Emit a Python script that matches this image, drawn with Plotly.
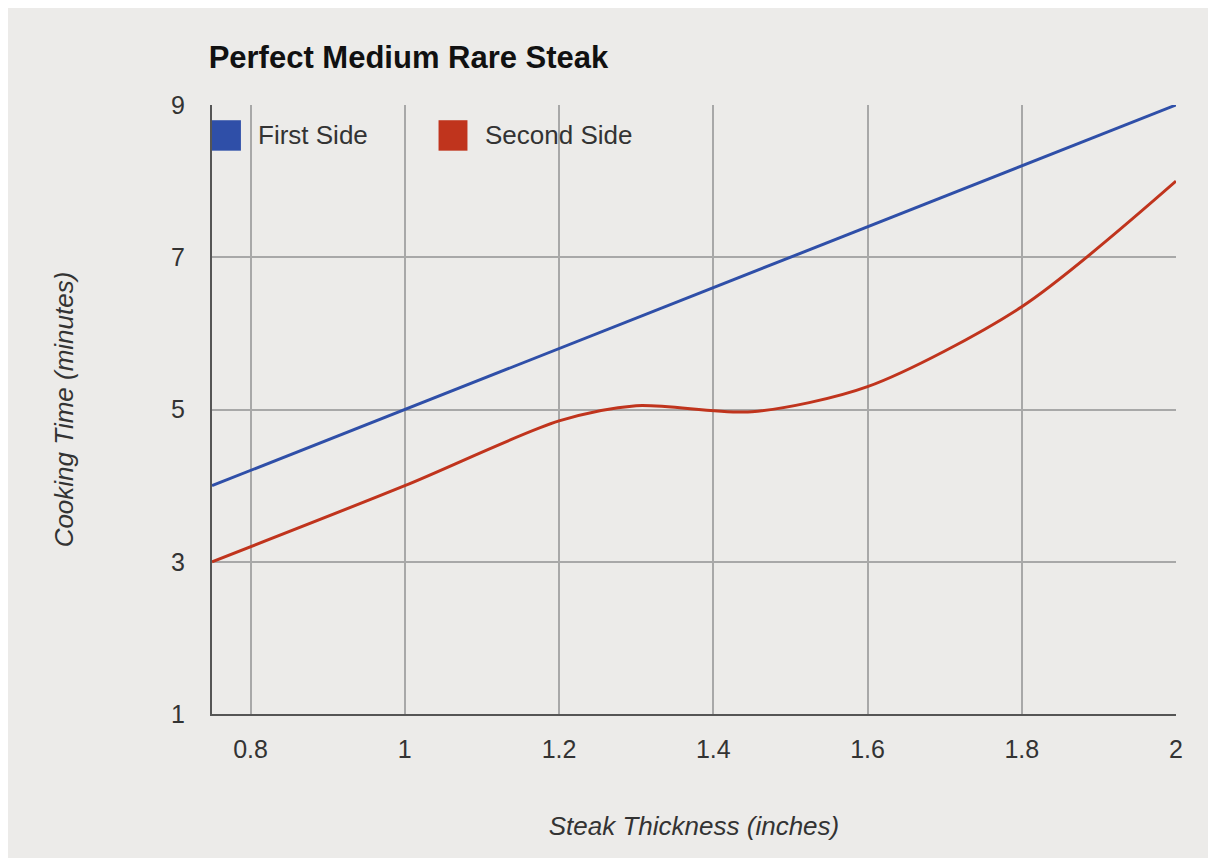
import plotly.graph_objects as go

thickness_first = [0.75, 1.0, 1.25, 1.5, 1.75, 2.0]
time_first = [4, 5, 6, 7, 8, 9]

thickness_second = [0.75, 1.0, 1.2, 1.3, 1.45, 1.6, 1.8, 2.0]
time_second = [3, 4, 4.85, 5.05, 4.97, 5.3, 6.35, 8]

series_names = ["First Side", "Second Side"]

blue = "#2f4fa8"
red = "#c0341d"
font = "Liberation Sans"

fig = go.Figure()
fig.add_trace(go.Scatter(x=thickness_first, y=time_first, mode="lines",
                         line=dict(color=blue, width=3), showlegend=False))
fig.add_trace(go.Scatter(x=thickness_second, y=time_second, mode="lines",
                         line=dict(color=red, width=3, shape="spline", smoothing=0.8),
                         showlegend=False))

# legend drawn as square + label in the top-left of the plot
for i, (name, col) in enumerate(zip(series_names, [blue, red])):
    x0 = 0.0 + i * 0.235
    fig.add_shape(type="rect", xref="paper", yref="paper",
                  x0=x0, x1=x0 + 0.03, y0=0.925, y1=0.975,
                  fillcolor=col, line=dict(width=0))
    fig.add_annotation(text=name, xref="paper", yref="paper", x=x0 + 0.046, y=0.95,
                       xanchor="left", yanchor="middle", showarrow=False,
                       font=dict(size=26, color="#333"))

fig.update_layout(
    width=1216, height=858,
    paper_bgcolor="#ecebe9", plot_bgcolor="#ecebe9",
    margin=dict(l=204, r=48, t=97, b=152),
    title=dict(text="<b>Perfect Medium Rare Steak</b>", x=0.165, xanchor="left",
               y=0.955, font=dict(family=font, size=31, color="#111")),
    font=dict(family=font, size=25, color="#333"),
    showlegend=False,
    xaxis=dict(range=[0.75, 2], tickvals=[0.8, 1, 1.2, 1.4, 1.6, 1.8, 2],
               ticktext=["0.8", "1", "1.2", "1.4", "1.6", "1.8", "2"],
               showgrid=True, gridcolor="#a8a8a8", gridwidth=2, zeroline=False,
               showline=True, linecolor="#555", linewidth=2, mirror=False,
               ticks="", ticklabelstandoff=12,
               title=dict(text="<i>Steak Thickness (inches)</i>", standoff=55,
                          font=dict(size=26, color="#333"))),
    yaxis=dict(range=[1, 9], tickvals=[1, 3, 5, 7, 9],
               showgrid=True, gridcolor="#a8a8a8", gridwidth=2, zeroline=False,
               showline=True, linecolor="#555", linewidth=2,
               ticks="", ticklabelstandoff=20,
               title=dict(text="<i>Cooking Time (minutes)</i>", standoff=90,
                          font=dict(size=26, color="#333"))),
)

fig.write_html("out.html")
